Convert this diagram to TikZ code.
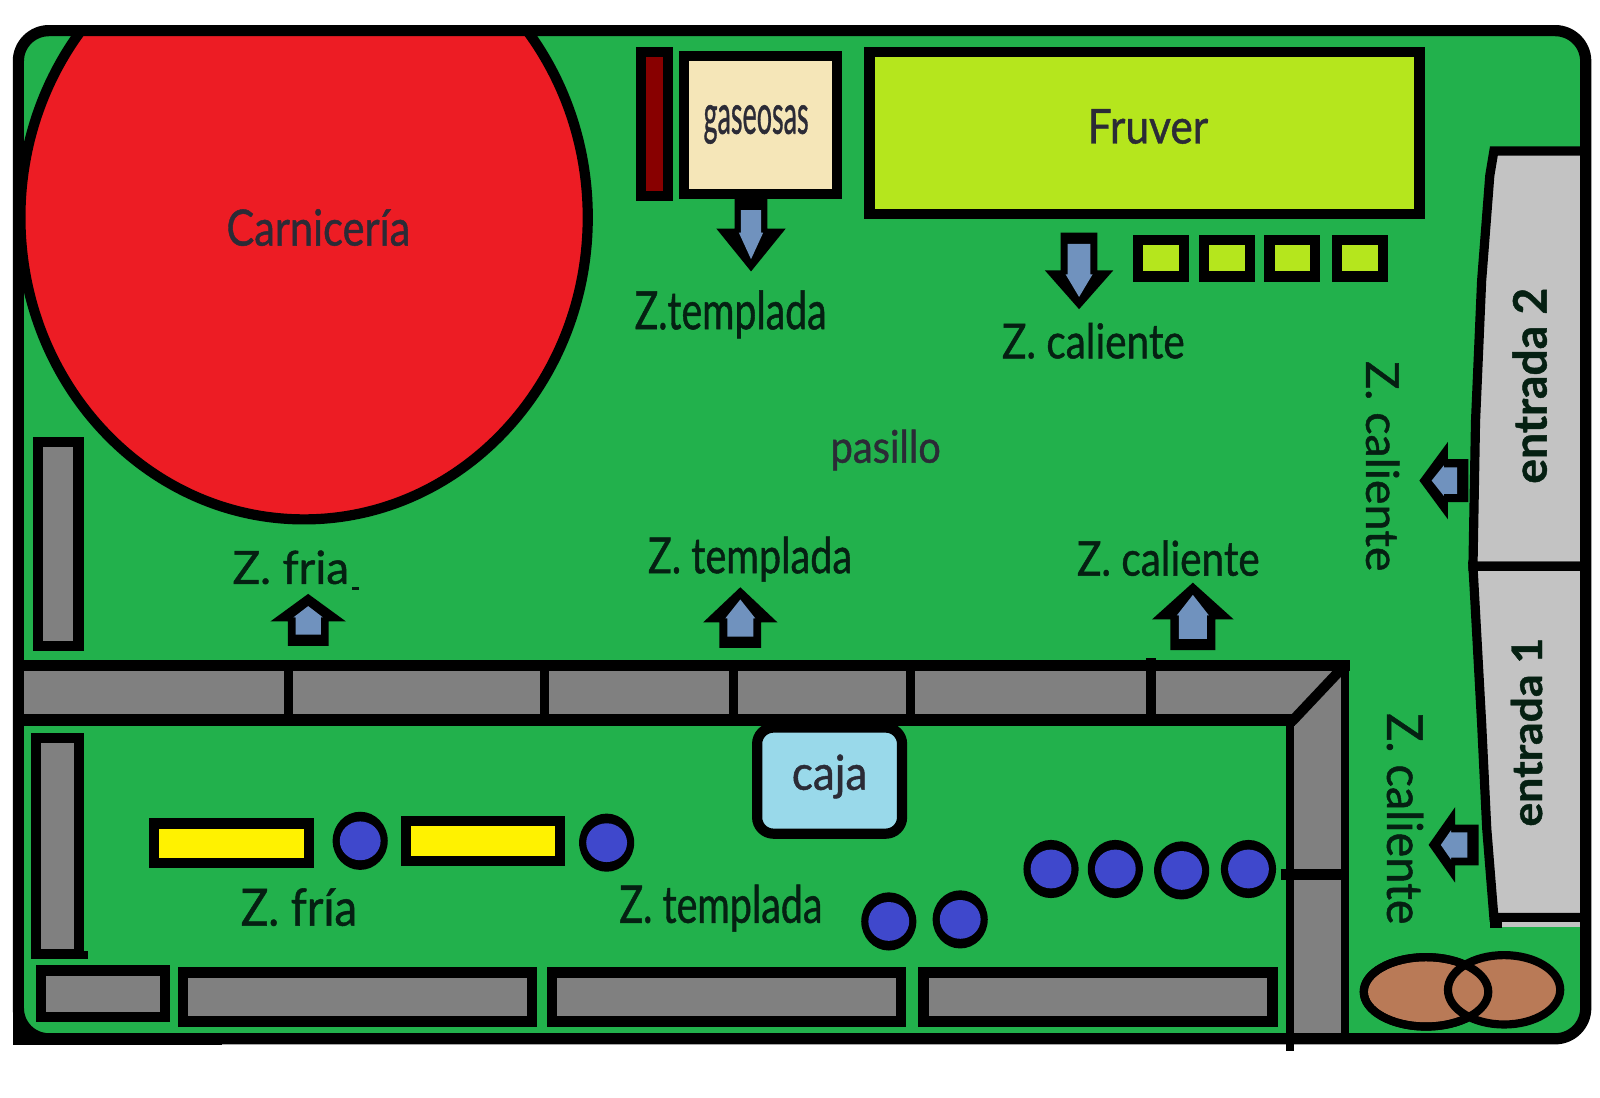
\documentclass[tikz,border=0pt]{standalone}
\usepackage{graphicx}
\usepackage{fontspec}
\setmainfont{Lato}
\newlength\ulen
\setlength\ulen{0.5pt}
\definecolor{floorgreen}{HTML}{22B14C}
\definecolor{shelfgrey}{HTML}{808080}
\definecolor{entrygrey}{HTML}{C3C3C3}
\definecolor{meatred}{HTML}{ED1C24}
\definecolor{darkbar}{HTML}{880000}
\definecolor{sandfill}{HTML}{F5E6B8}
\definecolor{limefill}{HTML}{B5E61D}
\definecolor{yellowfill}{HTML}{FFF200}
\definecolor{bluefill}{HTML}{3F48CC}
\definecolor{arrowblue}{HTML}{7092BE}
\definecolor{cajablue}{HTML}{99D9EA}
\definecolor{brownfill}{HTML}{B97A57}
\definecolor{inkdark}{HTML}{052012}
\definecolor{inkgrey}{HTML}{2B2B36}
\tikzset{
  heavy/.style={draw=black,line width=5pt,line join=miter},
  shelf/.style={heavy,fill=shelfgrey},
  wallline/.style={draw=black,line width=4.5pt},
  tag/.style={inner sep=0pt,outer sep=0pt,text=inkdark},
}
\newcommand\zarrow[7]{%
  \begin{scope}[shift={(#1,#2)},rotate=#3]
    \fill[black] (-#6,0) -- (-#6,-#5) -- (-#7,-#5) -- (0,-#4) -- (#7,-#5) -- (#6,-#5) -- (#6,0) -- cycle;
    \fill[arrowblue] ({-0.62*#6},-11) -- ({-0.62*#6},{-#5-4}) -- ({-0.62*#6-2},{-#5-4}) -- (0,{-#4+12}) -- ({0.62*#6+2},{-#5-4}) -- ({0.62*#6},{-#5-4}) -- ({0.62*#6},-11) -- cycle;
  \end{scope}}
\newcommand\lab[7][]{\node[tag,rotate=#4,#1] (#7) at (#2,#3) {\resizebox*{#5\ulen}{#6\ulen}{\addfontfeature{FakeBold=1}\csname labtext#7\endcsname}};}
\begin{document}
\begin{tikzpicture}[x=0.5pt,y=-0.5pt]
\useasboundingbox (0,0) rectangle (1568,1076);
\fill[white] (0,0) rectangle (1568,1076);
% floor
\fill[floorgreen,rounded corners=15pt] (18,30) rectangle (1554,1018);
% butcher's round counter
\begin{scope}
  \clip (18,30) rectangle (1554,1018);
  \draw[heavy,fill=meatred] (298,213) ellipse [x radius=278,y radius=296];
\end{scope}
% top row
\draw[heavy,fill=darkbar] (628,51) rectangle (655,192);
\draw[heavy,fill=sandfill] (670,55) rectangle (820,190);
\draw[heavy,fill=limefill] (852,51) rectangle (1391,210);
\foreach \xa/\xb in {1115/1160,1180/1225,1244/1289,1310/1355}
  \draw[heavy,fill=limefill] (\xa,235) rectangle (\xb,271);
% left shelves
\draw[shelf] (37,433) rectangle (77,633);
\draw[shelf] (35.5,723.5) rectangle (77.5,935);
\fill[black] (31,932) rectangle (86,940);
% bottom shelves
\draw[shelf] (40,951) rectangle (162,997);
\draw[shelf] (179,953) rectangle (521,1001);
\draw[shelf] (541,953) rectangle (883,1001);
\draw[shelf] (905,953) rectangle (1247,1001);
% L-shaped wall
\fill[shelfgrey] (18,652) -- (1318,652) -- (1318,1018) -- (1264,1018) -- (1264,705) -- (18,705) -- cycle;
\draw[wallline,line width=5.5pt] (18,652.5) -- (1323,652.5);
\draw[wallline,line width=5.5pt] (18,705.5) -- (1269,705.5);
\draw[wallline,line width=4pt] (1318,652) -- (1318,1018);
\draw[wallline,line width=4pt] (1264,705) -- (1264,1030);
\draw[wallline,line width=5pt] (1266,707) -- (1316,654);
\foreach \xa in {283,533.5,719,892}
  \draw[wallline] (\xa,652) -- (\xa,705);
\draw[wallline] (1128,645) -- (1128,705);
\draw[wallline,line width=5pt] (1255,857) -- (1318,857);
% till
\draw[heavy,fill=cajablue,rounded corners=8pt] (742,713) rectangle (884,817);
% yellow fridges
\draw[heavy,fill=yellowfill] (151,807) rectangle (302.5,846);
\draw[heavy,fill=yellowfill] (397.5,804.5) rectangle (549,843.5);
% blue discs
\foreach \cx/\cy in {353/824,594.5/825.8,1030/851.6,1093/851.6,1158/853,1223.5/851.6,871/903,941/901}{
  \fill[black] (\cx,\cy) ellipse [x radius=27,y radius=28.5];
  \fill[bluefill] (\cx,\cy) ellipse [x radius=20,y radius=19];
}
% entrances
\draw[heavy,line width=4.5pt,fill=entrygrey] (1464,148) -- (1460,172) -- (1452,275) -- (1446,413) -- (1443.5,555) -- (1554,555) -- (1554,148) -- cycle;
\fill[entrygrey] (1470,903) rectangle (1551,908);
\draw[heavy,line width=4.5pt,fill=entrygrey] (1443.5,555) -- (1452,709) -- (1457,812) -- (1464,899) -- (1554,899) -- (1554,555) -- cycle;
\fill[black] (1460,895) rectangle (1472,909);
% baskets
\draw[heavy,line width=4pt,fill=brownfill] (1397.5,972) ellipse [x radius=61,y radius=34];
\draw[heavy,line width=4pt,fill=brownfill] (1474,970) ellipse [x radius=55,y radius=34];
\draw[line width=4pt,draw=black] (1397.5,972) ellipse [x radius=61,y radius=34];
% outer wall
\draw[black,line width=5.5pt,rounded corners=15pt] (18,30) rectangle (1554,1018);
\fill[black] (14,1012) rectangle (218,1024);
\fill[black] (13,990) rectangle (24,1024);
% arrows
\zarrow{736}{195}{180}{71}{29}{16}{34}
\zarrow{1057.5}{228}{180}{75}{37}{18}{33.5}
\zarrow{302}{633}{0}{51}{24}{20}{37}
\zarrow{725.5}{635}{0}{59.5}{25}{20.5}{36.5}
\zarrow{1169}{637}{0}{66}{30}{22}{40}
\zarrow{1439}{471}{90}{48}{20}{21}{38}
\zarrow{1449}{828}{90}{49}{23}{20}{37}
% labels
\def\labtextcarniceria{Carnicería}
\def\labtextgaseosas{gaseosas}
\def\labtextfruver{Fruver}
\def\labtextztemplA{Z.templada}
\def\labtextzcalA{Z. caliente}
\def\labtextpasillo{pasillo}
\def\labtextzfriaA{Z. fria}
\def\labtextztemplB{Z. templada}
\def\labtextzcalB{Z. caliente}
\def\labtextzfriaB{Z. fría}
\def\labtextztemplC{Z. templada}
\def\labtextcaja{caja}
\def\labtextzcalC{Z. caliente}
\def\labtextzcalD{Z. caliente}
\def\labtextentradaB{entrada 2}
\def\labtextentradaA{entrada 1}
\lab[text=inkgrey]{312}{223}{0}{180}{36}{carniceria}
\lab[text=inkgrey]{741}{122}{0}{103}{38}{gaseosas}
\lab[text=inkgrey]{1125}{124}{0}{118}{34}{fruver}
\lab{716}{308}{0}{188}{47}{ztemplA}
\lab{1071.5}{334}{0}{179}{35}{zcalA}
\lab[text=inkgrey]{868}{441}{0}{108}{40}{pasillo}
\lab{285}{556}{0}{114}{33}{zfriaA}
\lab{735}{548}{0}{200}{44}{ztemplB}
\lab{1145}{547}{0}{179}{35}{zcalB}
\lab{293}{889}{0}{114}{37}{zfriaB}
\lab{706.5}{890}{0}{199}{46}{ztemplC}
\lab[text=inkgrey]{813}{761}{0}{74}{43}{caja}
\lab{1355}{457}{-90}{206}{33}{zcalC}
\lab{1377}{802.5}{-90}{207}{36}{zcalD}
\lab[font=\bfseries]{1499}{378}{90}{192}{34}{entradaB}
\lab[font=\bfseries]{1496}{717.5}{90}{185}{31}{entradaA}
\fill[inkdark] (345,575) rectangle (352,578);
\end{tikzpicture}
\end{document}
